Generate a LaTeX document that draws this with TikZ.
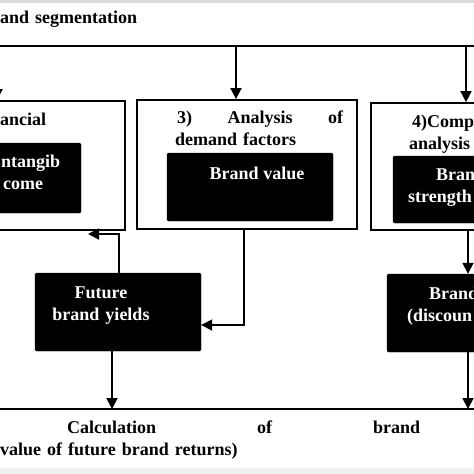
\documentclass[tikz,border=0pt]{standalone}
\usepackage{fontspec}
\setmainfont{Liberation Serif}
\usetikzlibrary{arrows.meta, positioning}

\begin{document}
\begin{tikzpicture}[
  x=1pt, y=-1pt,
  every node/.style={font=\fontsize{18}{22}\selectfont\bfseries, inner sep=0pt},
  frame/.style={draw=black, line width=1.8pt, fill=white},
  blackbox/.style={draw=black, fill=black, rounded corners=1.5pt},
  txt/.style={anchor=base west, align=left, text width=#1},
  txt/.default=100,
  wtxt/.style={txt=#1, text=white},
  wtxt/.default=100,
  arrow/.style={-{Triangle[length=11pt,width=11pt]}, line width=1.8pt},
  bus/.style={line width=1.8pt}
]
\useasboundingbox (0,0) rectangle (474,474);
\clip (0,0) rectangle (474,474);

% ---- page edges ----
\fill[gray!28] (0,0) rectangle (474,2.5);
\fill[gray!12] (0,468) rectangle (474,474);

% ---- step 1 ----
\node[txt=200] (seg) at (0,23) {and segmentation};
\coordinate (busL) at (-20,46);
\coordinate (busR) at (494,46);
\draw[bus] (busL) -- (busR);

% ---- step 2: financial analysis ----
\node[frame, minimum width=235, minimum height=129] (fin) at (7.5,165.5) {};
\node[txt] (finT) at (0,125) {ancial};
\node[blackbox, minimum width=161, minimum height=70] (inc) at (0.5,178) {};
\node[wtxt] (incT) at (1,167) {ntangib\\\hspace*{2pt}come};

% ---- step 3: demand factors ----
\node[frame, minimum width=220, minimum height=129] (dem) at (247,164.5) {};
\node[txt=168] (demT) at (175,123)
  {\hspace*{2pt}3)\hfill Analysis\hfill of\\demand factors};
\node[blackbox, minimum width=166, minimum height=68] (val) at (250,187) {};
\node[anchor=base, text=white] (valT) at (257,179) {Brand value};

% ---- step 4: competition ----
\node[frame, minimum width=219, minimum height=127] (cmp) at (480.5,166.5) {};
\node[txt] (cmpT) at (409,127) {\hspace*{3pt}4)Comp\\analysis};
\node[blackbox, minimum width=200, minimum height=67] (str) at (493,189.5) {};
\node[wtxt] (strT) at (408,180) {\hspace*{28pt}Brand\\strength};

% ---- lower row ----
\node[blackbox, minimum width=166, minimum height=78] (fut) at (118,312) {};
\node[anchor=base, align=center, text width=166, text=white] (futT)
  at (101,298) {Future\\brand yields};
\node[blackbox, minimum width=203, minimum height=78] (dis) at (488.5,313) {};
\node[wtxt] (disT) at (407,299) {\hspace*{22pt}Brand\\(discoun};

% ---- step 5 ----
\coordinate (busBL) at (-20,409);
\coordinate (busBR) at (494,409);
\draw[bus] (busBL) -- (busBR);
\node[txt=420] (calT) at (0,433)
  {\hspace*{67pt}Calculation\hfill of\hfill brand\hspace*{67pt}\\
   value of future brand returns)};

% ---- arrows from the top line ----
\coordinate (t1) at (-3,46);
\coordinate (t2) at (236,46);
\coordinate (t3) at (466,46);
\draw[arrow] (t1) -- (t1 |- fin.north);
\draw[arrow] (t2) -- (t2 |- dem.north);
\draw[arrow] (t3) -- (t3 |- cmp.north);

% ---- demand factors -> future yields ----
\coordinate (k2) at (244,325);
\draw[arrow] (dem.south -| k2) -- (k2) -- (fut.east |- k2);

% ---- future yields -> financial analysis ----
\coordinate (k1) at (119,234);
\coordinate (k1e) at (88,234);
\draw[arrow] (fut.north -| k1) -- (k1) -- (k1e);

% ---- competition -> discount ----
\coordinate (k3) at (468,300);
\draw[arrow] (cmp.south -| k3) -- (k3 |- dis.north);

% ---- into the last line ----
\coordinate (b1) at (112,409);
\coordinate (b3) at (468,409);
\draw[arrow] (fut.south -| b1) -- (b1);
\draw[arrow] (dis.south -| b3) -- (b3);

\end{tikzpicture}
\end{document}
